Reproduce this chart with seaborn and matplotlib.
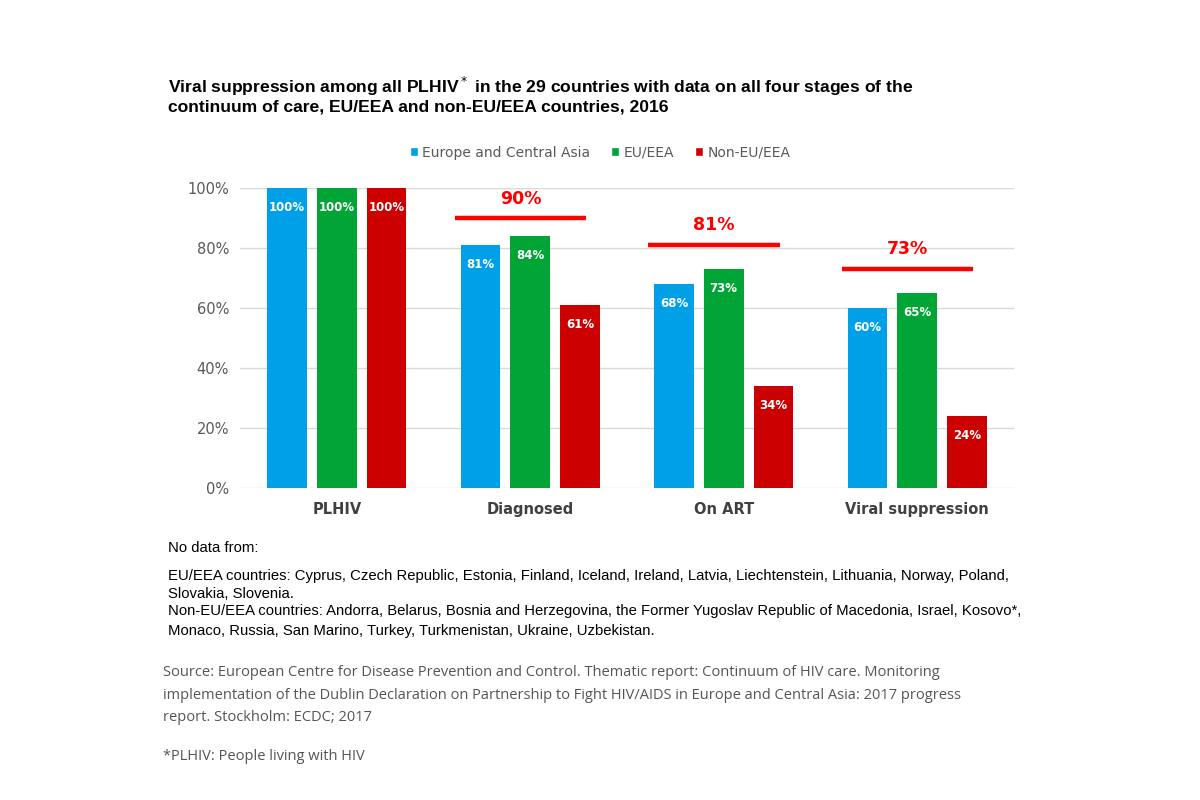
import pandas as pd
import seaborn as sns
import matplotlib.pyplot as plt
from matplotlib.patches import Patch

# data
stages = ["PLHIV", "Diagnosed", "On ART", "Viral suppression"]
series = ["Europe and Central Asia", "EU/EEA", "Non-EU/EEA"]
europe_ca = [100, 81, 68, 60]
eu_eea = [100, 84, 73, 65]
non_eu_eea = [100, 61, 34, 24]
targets = [None, 90, 81, 73]

colors = ["#00A0E9", "#00A535", "#CC0000"]
target_red = "#FF0000"


def main():
    sns.set_theme(style="white")
    plt.rcParams["font.family"] = ["DejaVu Sans"]

    df = pd.DataFrame({
        "stage": stages * 3,
        "group": [s for s in series for _ in stages],
        "value": europe_ca + eu_eea + non_eu_eea,
    })

    fig = plt.figure(figsize=(12, 8), dpi=100)
    ax = fig.add_axes([0.2, 0.39, 0.645, 0.375])

    sns.barplot(data=df, x="stage", y="value", hue="group",
                order=stages, hue_order=series, palette=colors,
                width=0.77, gap=0.2, saturation=1, legend=False,
                linewidth=0, ax=ax)

    for cont in ax.containers:
        ax.bar_label(cont, fmt="%d%%", padding=-19, color="white",
                     fontsize=8.5, fontweight="bold")

    # 90-90-90 targets
    for i, t in enumerate(targets):
        if t is None:
            continue
        ax.plot([i - 0.39, i + 0.29], [t, t], color=target_red, lw=3.2,
                solid_capstyle="butt", zorder=3)
        ax.text(i - 0.05, t + 6.5, f"{t}%", color=target_red, fontsize=12.5,
                fontweight="bold", ha="center", va="center")

    ax.set_ylim(0, 100)
    ax.set_xlim(-0.5, 3.5)
    ax.set_yticks(range(0, 101, 20))
    ax.set_yticklabels([f"{v}%" for v in range(0, 101, 20)],
                       color="#595959", fontsize=10.5)
    ax.set_xticks(range(len(stages)))
    ax.set_xticklabels(stages, color="#404040", fontsize=10.5, fontweight="bold")
    ax.tick_params(axis="y", length=0, pad=8)
    ax.tick_params(axis="x", length=0, pad=10)
    ax.yaxis.grid(True, color="#D9D9D9", lw=1)
    ax.set_axisbelow(True)
    for sp in ax.spines.values():
        sp.set_visible(False)
    ax.set_xlabel("")
    ax.set_ylabel("")

    handles = [Patch(facecolor=c, label=s) for c, s in zip(colors, series)]
    fig.legend(handles=handles, loc="center", bbox_to_anchor=(0.5, 0.809),
               ncol=3, frameon=False, fontsize=10, labelcolor="#595959",
               handlelength=0.6, handleheight=0.6, handletextpad=0.3,
               columnspacing=1.5)

    fig.text(0.14, 0.892,
             "Viral suppression among all PLHIV$^*$ in the 29 countries with data on all four stages of the",
             fontsize=12.6, fontweight="bold", family="Liberation Sans",
             color="black", va="center")
    fig.text(0.14, 0.866,
             "continuum of care, EU/EEA and non-EU/EEA countries, 2016",
             fontsize=12.6, fontweight="bold", family="Liberation Sans",
             color="black", va="center")

    notes = [
        (0.315, "No data from:"),
        (0.28, "EU/EEA countries: Cyprus, Czech Republic, Estonia, Finland, Iceland, Ireland, Latvia, Liechtenstein, Lithuania, Norway, Poland,"),
        (0.258, "Slovakia, Slovenia."),
        (0.236, "Non-EU/EEA countries: Andorra, Belarus, Bosnia and Herzegovina, the Former Yugoslav Republic of Macedonia, Israel, Kosovo*,"),
        (0.211, "Monaco, Russia, San Marino, Turkey, Turkmenistan, Ukraine, Uzbekistan."),
    ]
    for y, s in notes:
        fig.text(0.14, y, s, fontsize=10.7, family="Liberation Sans",
                 color="black", va="center")

    source = [
        (0.159, "Source: European Centre for Disease Prevention and Control. Thematic report: Continuum of HIV care. Monitoring"),
        (0.131, "implementation of the Dublin Declaration on Partnership to Fight HIV/AIDS in Europe and Central Asia: 2017 progress"),
        (0.103, "report. Stockholm: ECDC; 2017"),
        (0.055, "*PLHIV: People living with HIV"),
    ]
    for y, s in source:
        fig.text(0.136, y, s, fontsize=10.5, family="Open Sans",
                 color="#555555", va="center")

    fig.savefig("out.png", dpi=100, facecolor="white")


if __name__ == "__main__":
    main()
